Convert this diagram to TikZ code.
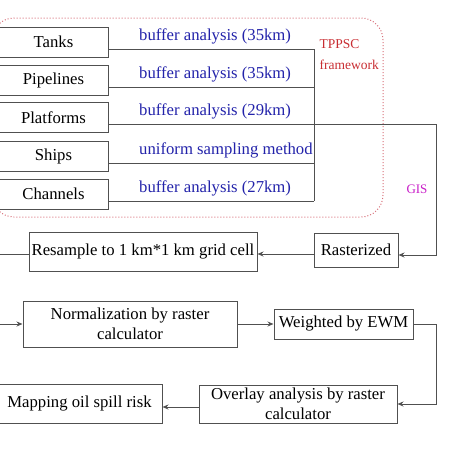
\documentclass[tikz,border=0pt]{standalone}
\usepackage{fontspec}
\setmainfont{Liberation Serif}
\usetikzlibrary{arrows.meta}

\definecolor{boxgray}{RGB}{80,80,80}
\definecolor{lblblue}{RGB}{35,35,170}
\definecolor{tpred}{RGB}{200,45,50}
\definecolor{gismag}{RGB}{200,30,200}
\definecolor{dashred}{RGB}{215,110,120}

\tikzset{
  box/.style={draw=boxgray, line width=1pt, inner sep=1pt, align=center,
              font=\fontsize{16.7}{20.5}\selectfont},
  lbl/.style={text=lblblue, anchor=west, inner sep=0pt,
              font=\fontsize{16.7}{18}\selectfont},
  line/.style={draw=boxgray, line width=1pt},
  arrow/.style={line, -{Stealth[length=6pt,width=5pt]}}
}

\begin{document}
\begin{tikzpicture}[x=1pt, y=-1pt]

    \useasboundingbox (0,0) rectangle (474,474);

    % TPPSC framework
    \draw[dashred, dotted, line width=1pt, rounded corners=22pt] (-8,18) rectangle (383,217);
    \node[text=tpred, anchor=west, align=left, font=\fontsize{13.5}{21}\selectfont] (tppsc) at (316,55) {TPPSC\\framework};
    \node[text=gismag, font=\fontsize{13}{14}\selectfont] (gis) at (417,189) {GIS};

    % sources
    \node[box, minimum width=109pt, minimum height=30pt] (tanks)     at (53.5,42)  {Tanks};
    \node[box, minimum width=109pt, minimum height=30pt] (pipes)     at (53.5,80)  {Pipelines};
    \node[box, minimum width=109pt, minimum height=30pt] (platforms) at (53.5,117.5) {Platforms};
    \node[box, minimum width=109pt, minimum height=30pt] (ships)     at (53.5,156) {Ships};
    \node[box, minimum width=109pt, minimum height=30pt] (channels)  at (53.5,194) {Channels};

    \node[lbl] (l1) at (139,36)  {buffer analysis (35km)};
    \node[lbl] (l2) at (139,74)  {buffer analysis (35km)};
    \node[lbl] (l3) at (139,111.5) {buffer analysis (29km)};
    \node[lbl] (l4) at (139,150) {uniform sampling method};
    \node[lbl] (l5) at (139,188) {buffer analysis (27km)};

    \coordinate (bus) at (314,0);
    \coordinate (gisline) at (436,0);
    \coordinate (back) at (-10,0);

    \foreach \n in {tanks,pipes,ships,channels}
    \draw[line] ([yshift=-7pt]\n.east) -- ([yshift=-7pt]\n.east -| bus);
    \draw[line] ([yshift=-7pt]tanks.east -| bus) -- ([yshift=-7pt]channels.east -| bus);

    % processing
    \node[box, minimum width=84pt, minimum height=34pt] (raster)   at (356,250) {Rasterized};
    \node[box, minimum width=228pt, minimum height=39pt] (resample) at (143,251.5) {Resample to 1 km*1 km grid cell};
    \node[box, minimum width=214pt, minimum height=46pt] (norm)     at (130,324) {Normalization by raster\\calculator};
    \node[box, minimum width=139pt, minimum height=30pt] (ewm)      at (343.5,324) {Weighted by EWM};
    \node[box, minimum width=198pt, minimum height=38pt] (overlay)  at (298,404) {Overlay analysis by raster\\calculator};
    \node[box, minimum width=165pt, minimum height=39pt] (mapping)  at (79.5,403.5) {Mapping oil spill risk};

    \coordinate (rin) at ([yshift=-5pt]raster.east);
    \coordinate (rout) at ([yshift=-4pt]raster.west);
    \coordinate (sout) at ([yshift=-3pt]resample.west);
    \coordinate (oout) at ([yshift=-3pt]overlay.west);

    \draw[arrow] ([yshift=-7pt]platforms.east) -| (gisline |- rin) -- (rin);
    \draw[arrow] (rout) -- (rout -| resample.east);
    \draw[arrow] (sout) -- (sout -| back) |- (norm.west);
    \draw[arrow] (norm.east) -- (ewm.west);
    \draw[arrow] (ewm.east) -| (gisline |- overlay.east) -- (overlay.east);
    \draw[arrow] (oout) -- (oout -| mapping.east);

\end{tikzpicture}
\end{document}
